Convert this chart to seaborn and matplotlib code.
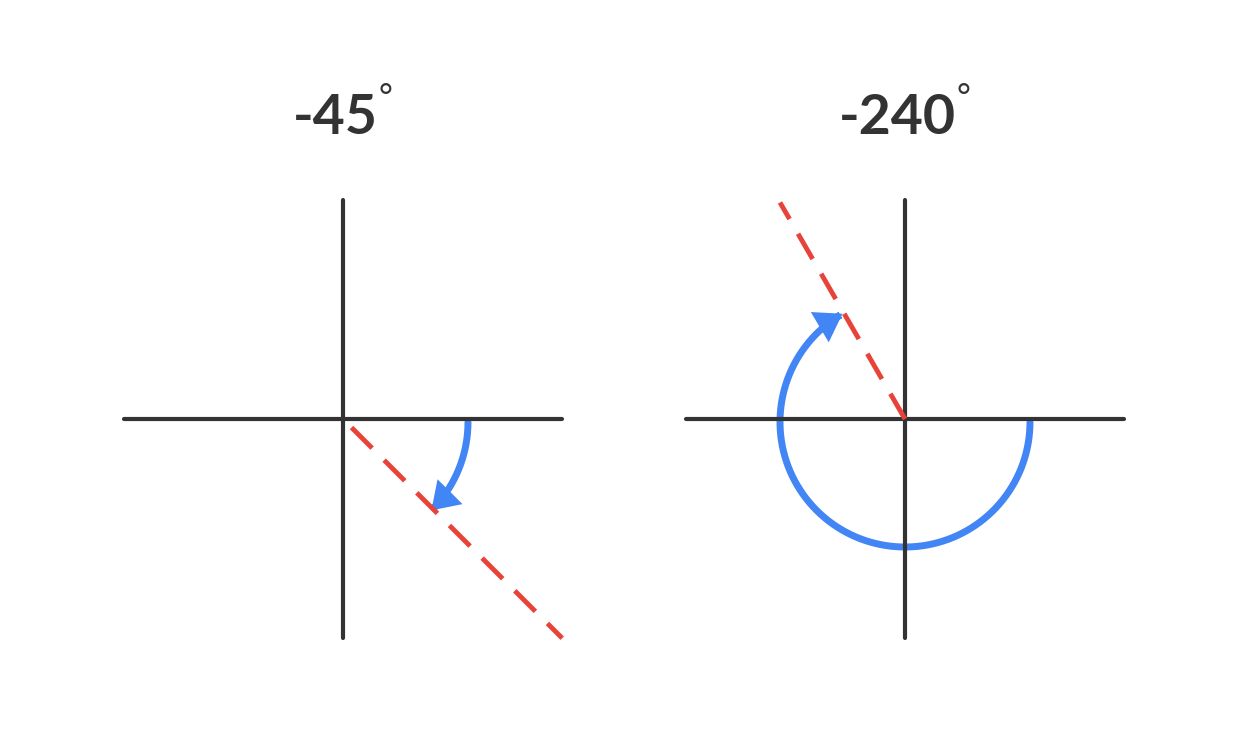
import numpy as np
import pandas as pd
import matplotlib
matplotlib.use("Agg")
import matplotlib.pyplot as plt
import seaborn as sns
from matplotlib.patches import FancyArrowPatch
from matplotlib.path import Path

titles = ["-45", "-240"]
angles_deg = [-45, -240]
centers_x = [343, 905]
center_y = 419
axis_half = 219
ray_start = [12, 0]
ray_len = [310, 250]
arc_radius = 125

DARK = "#333333"; RED = "#e8433a"; BLUE = "#4285f4"

sns.set_style("white")
fig = plt.figure(figsize=(12.51, 7.33), dpi=100)
ax = fig.add_axes([0, 0, 1, 1])
ax.set_xlim(0, 1251); ax.set_ylim(733, 0); ax.axis("off")

for t, a, cx, s0, L in zip(titles, angles_deg, centers_x, ray_start, ray_len):
    h = pd.DataFrame({"x": [cx - axis_half, cx + axis_half], "y": [center_y, center_y]})
    v = pd.DataFrame({"x": [cx, cx], "y": [center_y - axis_half, center_y + axis_half]})
    sns.lineplot(data=h, x="x", y="y", ax=ax, color=DARK, lw=3, sort=False, estimator=None)
    sns.lineplot(data=v, x="x", y="y", ax=ax, color=DARK, lw=3, sort=False, estimator=None)
    r = np.deg2rad(a)
    ray = pd.DataFrame({"x": [cx + s0 * np.cos(r), cx + L * np.cos(r)],
                        "y": [center_y - s0 * np.sin(r), center_y - L * np.sin(r)]})
    sns.lineplot(data=ray, x="x", y="y", ax=ax, color=RED, lw=3.5, sort=False,
                 estimator=None, linestyle=(0, (6, 3.5)))
    th = np.deg2rad(np.linspace(0, a, 200))
    px = cx + arc_radius * np.cos(th)
    py = center_y - arc_radius * np.sin(th) + 3
    arr = FancyArrowPatch(path=Path(np.column_stack([px, py])),
                          arrowstyle="-|>,head_length=12,head_width=8",
                          color=BLUE, lw=5, joinstyle="miter")
    ax.add_patch(arr)
    txt = ax.text(cx - 8, 118, t, ha="center", va="center", fontsize=40, color=DARK,
                  fontweight="bold", family="Lato")
    fig.canvas.draw()
    bb = txt.get_window_extent().transformed(ax.transData.inverted())
    ax.text(max(bb.x0, bb.x1) + 1, 98, "°", ha="left", va="center",
            fontsize=24, color=DARK, family="Lato")

fig.savefig("out.png", dpi=100)
